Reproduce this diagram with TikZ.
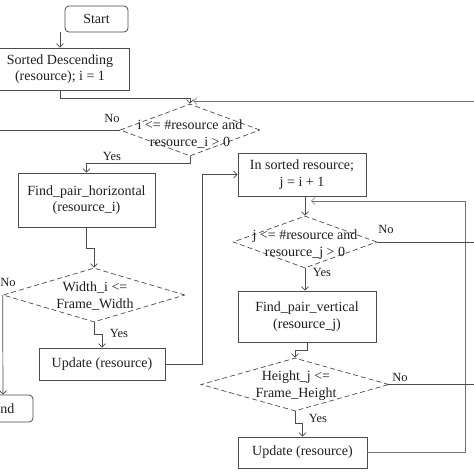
\documentclass[tikz,border=0pt]{standalone}
\usepackage{fontspec}
\setmainfont{Liberation Serif}
\usetikzlibrary{shapes.geometric,arrows.meta,calc}
\definecolor{ln}{gray}{0.3}
\definecolor{lnl}{gray}{0.45}
\definecolor{tx}{gray}{0.12}
\begin{document}
\begin{tikzpicture}[x=1pt,y=-1pt,
  box/.style={draw=ln, line width=0.8pt, rectangle, inner sep=0pt, align=center, text=tx, font=\fontsize{14}{16.5}\selectfont},
  term/.style={box, rounded corners=4pt},
  dia/.style={draw=ln, dash pattern=on 5pt off 3pt, line width=0.7pt, diamond, inner sep=0pt},
  dtext/.style={align=center, text=tx, font=\fontsize{14}{16.5}\selectfont, inner sep=0pt},
  lab/.style={text=tx, font=\fontsize{12.5}{14}\selectfont, inner sep=0pt},
  arr/.style={draw=ln, line width=0.7pt, -{Straight Barb[length=3.5pt,width=7pt]}},
  con/.style={draw=ln, line width=0.7pt},
]
\useasboundingbox[fill=white] (0,0) rectangle (474,474);

% nodes
\node[term, minimum width=63pt, minimum height=26pt] (start) at (96.5,19) {Start};
\node[box, minimum width=138pt, minimum height=42pt] (sorted) at (60,69) {Sorted Descending\\(resource); i = 1};
\node[dia, minimum width=140pt, minimum height=52pt] (d1) at (190,130) {};
\node[dtext] (d1t) at (190,134) {i <= \#resource and\\resource\_i > 0};
\node[box, minimum width=137pt, minimum height=54pt] (fph) at (86.5,200) {Find\_pair\_horizontal\\(resource\_i)};
\node[dia, minimum width=182pt, minimum height=54pt] (d2) at (94,295) {};
\node[dtext] (d2t) at (95,296) {Width\_i <=\\Frame\_Width};
\node[term, minimum width=60pt, minimum height=27pt] (end) at (3,408.5) {End};
\node[box, minimum width=126pt, minimum height=32pt] (upd1) at (102,364) {Update (resource)};
\node[box, minimum width=128pt, minimum height=43pt] (ins) at (302,174.5) {In sorted resource;\\j = i + 1};
\node[dia, minimum width=144pt, minimum height=52pt] (d3) at (305,242) {};
\node[dtext] (d3t) at (305,244.5) {j <= \#resource and\\resource\_j > 0};
\node[box, minimum width=138pt, minimum height=51pt] (fpv) at (307,316.5) {Find\_pair\_vertical\\(resource\_j)};
\node[dia, minimum width=188pt, minimum height=53pt] (d4) at (295,384.5) {};
\node[dtext] (d4t) at (296,385.5) {Height\_j <=\\Frame\_Height};
\node[box, minimum width=129pt, minimum height=31pt] (upd2) at (302.5,452.5) {Update (resource)};

% labels
\node[lab] (no1) at (112,118) {No};
\node[lab] (yes1) at (112,156) {Yes};
\node[lab] (no2) at (8,282) {No};
\node[lab] (yes2) at (119,333) {Yes};
\node[lab] (no3) at (386,229) {No};
\node[lab] (yes3) at (322,272) {Yes};
\node[lab] (no4) at (400,377) {No};
\node[lab] (yes4) at (318,418) {Yes};

% helper coordinates
\coordinate (topline) at (0,98);
\coordinate (redge1) at (474,101);
\coordinate (ledge) at (0,130);
\coordinate (redge) at (474,0);
\coordinate (loopx) at (465,0);
\coordinate (loopin) at (311,201);

% connectors
\draw[arr] (start.south -| sorted.north) -- (sorted.north);
\draw[arr] (sorted.south) |- (topline -| d1.north) -- (d1.north);
\draw[arr, draw=lnl] (redge1) -- ($(redge1 -| d1.north)+(3,0)$);
\draw[con] (d1.west) -- (d1.west -| ledge);
\draw[arr] (d1.south) -- ++(0,7) -| (fph.north);
\draw[arr] (fph.south) -- ++(0,21) -| (d2.north);
\draw[arr] (d2.west) -- (end.north);
\draw[arr] (d2.south) -- ++(0,12) -| (upd1.north);
\draw[arr] (upd1.east) -- ++(37,0) |- (ins.west);
\draw[arr] (ins.south -| d3.north) -- (d3.north);
\draw[arr] (d3.south) -- (d3.south |- fpv.north);
\draw[arr] (fpv.south) -- ++(0,8) -| (d4.north);
\draw[arr] (d4.south) -- ++(0,12) -| (upd2.north);
\draw[arr, draw=lnl] (upd2.east) -- (upd2.east -| loopx) |- (loopin);
\draw[con] (d3.east) -- (d3.east -| redge);
\draw[con] (d4.east) -- (d4.east -| redge);
\end{tikzpicture}
\end{document}
